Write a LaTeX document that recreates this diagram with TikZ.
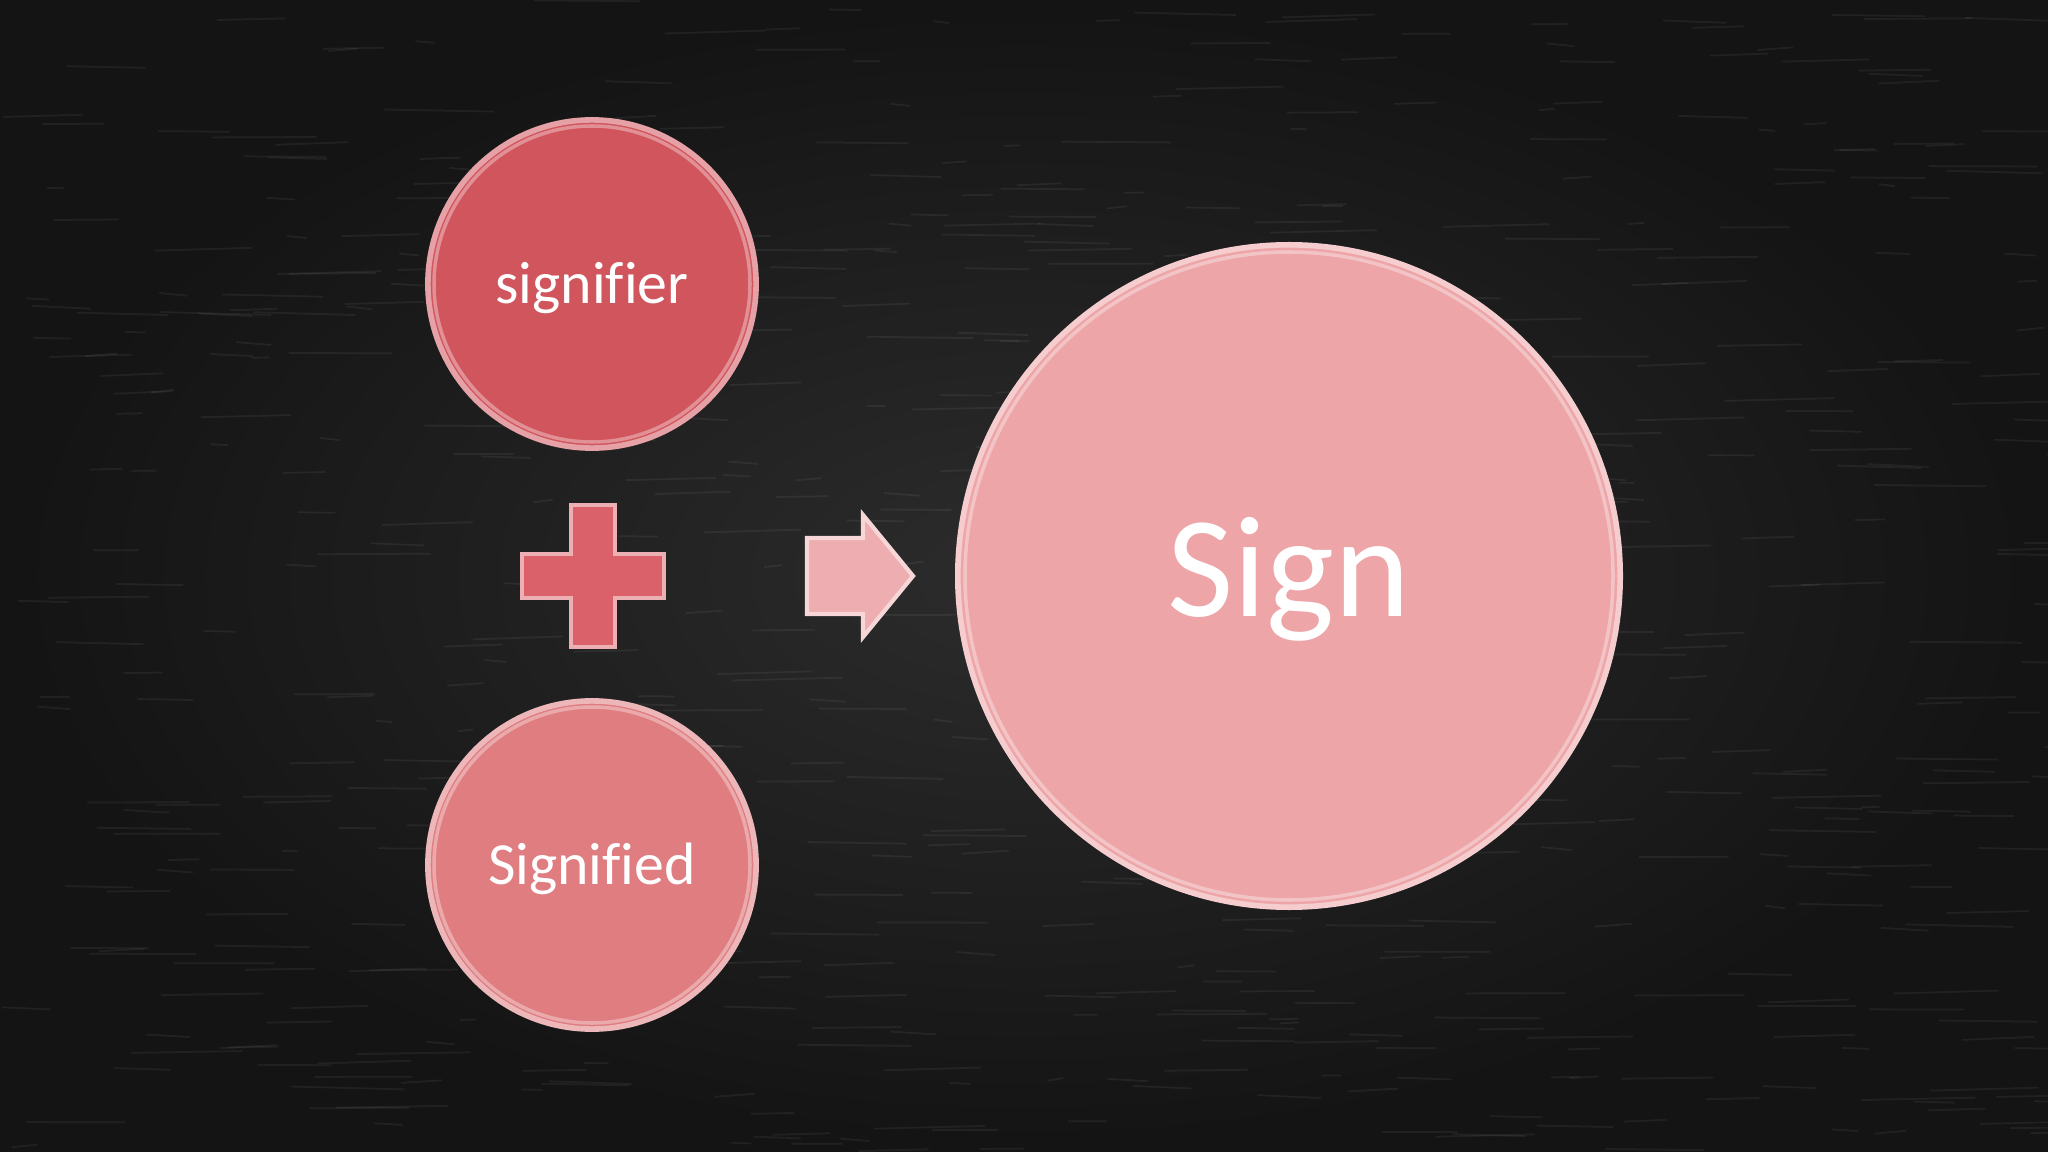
\documentclass[tikz,border=0pt]{standalone}
\usepackage{fontspec}
\setmainfont{Carlito}[Ligatures=NoCommon]
\usetikzlibrary{positioning,shapes}
\definecolor{board}{HTML}{1C1C1C}
\definecolor{boardlight}{HTML}{2C2C2C}
\definecolor{signifierred}{HTML}{D1555D}
\definecolor{signifiedrose}{HTML}{DF7D81}
\definecolor{signpink}{HTML}{EDA5A8}
\definecolor{plusred}{HTML}{DA6169}
\definecolor{arrowpink}{HTML}{EEADB0}

\begin{document}
\begin{tikzpicture}[x=0.01cm, y=-0.01cm,
      every node/.style={circle, inner sep=0pt, text=white},
      bubble/.style={fill=#1, draw=#1!55!white, line width=1.6pt},
      small bubble/.style={bubble=#1, minimum size=3.28cm, font=\fontsize{17}{20}\selectfont,
         text height=14.5pt, text depth=3.4pt},
      big bubble/.style={bubble=#1, minimum size=6.62cm, font=\fontsize{41}{48}\selectfont,
         text height=31pt, text depth=8.2pt},
      gloss/.style={draw=white, opacity=0.35, line width=1pt},
      bevel/.style={fill=#1, draw=#1!50!white, line width=1.2pt, line join=miter}]

   % chalkboard
   \useasboundingbox (0,0) rectangle (2048,1152);
   \shade[inner color=boardlight, outer color=board!70!black] (0,0) rectangle (2048,1152);
   \pgfmathsetseed{11}
   \foreach \i in {1,...,600}{
      \pgfmathsetmacro\sx{rnd*2048}
      \pgfmathsetmacro\sy{rnd*1152}
      \pgfmathsetmacro\sl{15+rnd*100}
      \draw[white, opacity=0.06, line width=0.5pt] (\sx,\sy) -- ++(\sl,rnd*6-3);
   }

   % the two parts
   \node[small bubble=signifierred] (signifier) at (592,284) {signifier};
   \node[small bubble=signifiedrose] (signified) at (592,865) {Signified};
   \draw[gloss] (signifier) circle (158);
   \draw[gloss] (signified) circle (158);

   % plus
   \draw[bevel=plusred, shift={(593,576)}]
      (-22,-71) -- (22,-71) -- (22,-22) -- (71,-22) -- (71,22) -- (22,22) -- (22,71)
      -- (-22,71) -- (-22,22) -- (-71,22) -- (-71,-22) -- (-22,-22) -- cycle;

   % arrow
   \draw[bevel=arrowpink, shift={(860,576)}]
      (-53,-38) -- (3,-38) -- (3,-61) -- (53,0) -- (3,61) -- (3,38) -- (-53,38) -- cycle;

   % the whole
   \node[big bubble=signpink] (sign) at (1289,576) {Sign};
   \draw[gloss] (sign) circle (324);
\end{tikzpicture}
\end{document}
